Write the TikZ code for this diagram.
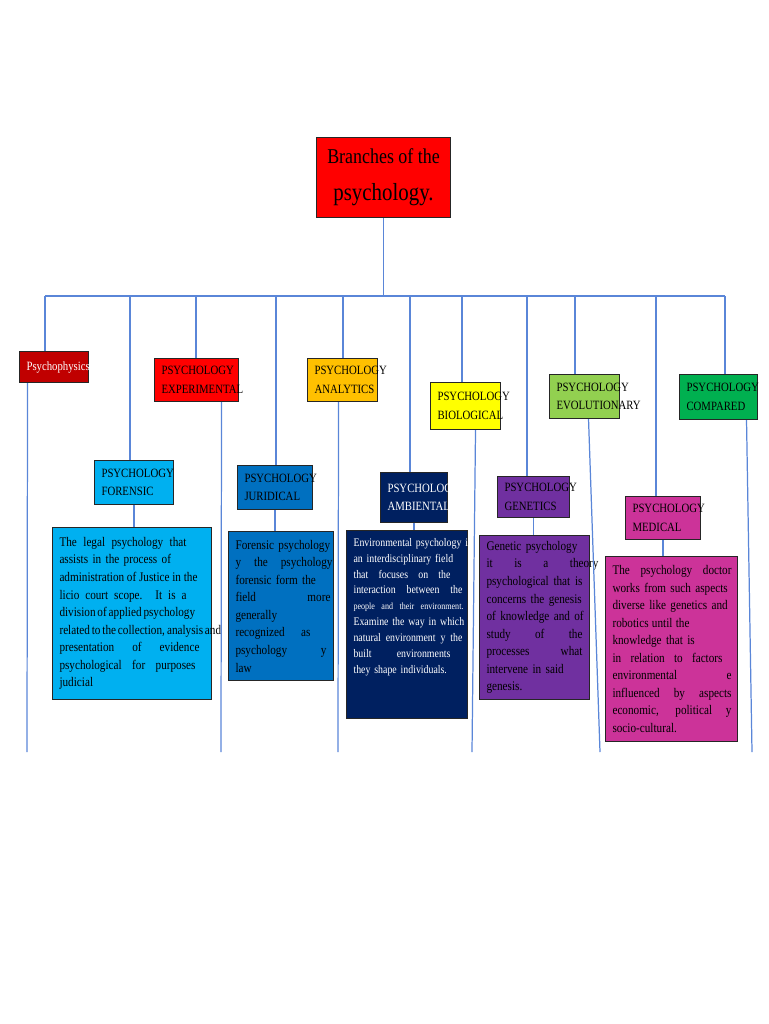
\documentclass[tikz,border=0pt]{standalone}
\usepackage{fontspec}
\setmainfont{Liberation Serif}[FakeStretch=0.85]
\usepackage{tikz}
\hyphenpenalty=10000
\uchyph=0
\definecolor{cred}{HTML}{FF0000}
\definecolor{cdark}{HTML}{C00000}
\definecolor{ccyan}{HTML}{00B0F0}
\definecolor{cblue}{HTML}{0070C0}
\definecolor{camber}{HTML}{FFC000}
\definecolor{cnavy}{HTML}{002060}
\definecolor{cyellow}{HTML}{FFFF00}
\definecolor{cpurple}{HTML}{7030A0}
\definecolor{clime}{HTML}{92D050}
\definecolor{cmagenta}{HTML}{CC3399}
\definecolor{cgreen}{HTML}{00B050}
\definecolor{clink}{HTML}{5A86D8}
\definecolor{cborder}{HTML}{262626}
\newcommand{\jline}[2][\linewidth]{\makebox[#1][s]{\spaceskip=0pt\xspaceskip=0pt #2}\\}
\newcommand{\rline}[1]{\mbox{#1}\\}
\tikzset{
  titlebox/.style={draw=cborder,line width=0.6pt,fill=cred,anchor=north west,
    align=center,minimum width=2.68cm,minimum height=1.6cm,
    font=\fontsize{12}{14}\selectfont},
  branchbox/.style={draw=cborder,line width=0.6pt,anchor=north west,align=left,
    inner xsep=0.14cm,inner ysep=0pt,font=\fontsize{7.2}{10.5}\selectfont},
  notebox/.style={draw=cborder,line width=0.6pt,anchor=north west,align=left,
    inner xsep=0.14cm,inner ysep=0pt,font=\fontsize{7.5}{10}\selectfont},
  link/.style={draw=clink,line width=0.7pt}
}
\begin{document}
\begin{tikzpicture}[x=0.02cm,y=-0.02cm]
  \useasboundingbox (0,0) rectangle (768,1024);
  \node[titlebox] (title) at (316,137)
    {Branches of the\\[7pt]{\fontsize{14}{16}\selectfont psychology.}};
  % branch labels
  \node[branchbox,fill=cdark,text=white,minimum width=1.38cm,minimum height=0.62cm,
    text width=1.10cm] (phys) at (19,351) {Psychophysics};
  \node[branchbox,fill=ccyan,minimum width=1.58cm,minimum height=0.88cm,
    text width=1.30cm] (fore) at (94,460) {PSYCHOLOGY\\FORENSIC};
  \node[branchbox,fill=cred,minimum width=1.68cm,minimum height=0.86cm,
    text width=1.40cm] (expe) at (154,358) {PSYCHOLOGY\\EXPERIMENTAL};
  \node[branchbox,fill=cblue,minimum width=1.50cm,minimum height=0.88cm,
    text width=1.22cm] (juri) at (237,465) {PSYCHOLOGY\\JURIDICAL};
  \node[branchbox,fill=camber,minimum width=1.40cm,minimum height=0.86cm,
    text width=1.12cm] (anal) at (307,358) {PSYCHOLOGY\\ANALYTICS};
  \node[branchbox,fill=cnavy,text=white,minimum width=1.34cm,minimum height=1.00cm,
    text width=1.06cm] (ambi) at (380,472) {PSYCHOLOGY\\AMBIENTAL};
  \node[branchbox,fill=cyellow,minimum width=1.40cm,minimum height=0.94cm,
    text width=1.12cm] (biol) at (430,382) {PSYCHOLOGY\\BIOLOGICAL};
  \node[branchbox,fill=cpurple,minimum width=1.44cm,minimum height=0.82cm,
    text width=1.16cm] (gene) at (497,476) {PSYCHOLOGY\\GENETICS};
  \node[branchbox,fill=clime,minimum width=1.40cm,minimum height=0.88cm,
    text width=1.12cm] (evol) at (549,374) {PSYCHOLOGY\\EVOLUTIONARY};
  \node[branchbox,fill=cmagenta,minimum width=1.50cm,minimum height=0.86cm,
    text width=1.22cm] (medi) at (625,496) {PSYCHOLOGY\\MEDICAL};
  \node[branchbox,fill=cgreen,minimum width=1.56cm,minimum height=0.90cm,
    text width=1.28cm] (comp) at (679,374) {PSYCHOLOGY\\COMPARED};
  % descriptions
  \node[notebox,fill=ccyan,minimum width=3.18cm,minimum height=3.44cm,
    text width=2.90cm] (fore-desc) at (52,527)
    {\jline[2.54cm]{The legal psychology that}
     \rline{assists in the process of}
     \jline[2.76cm]{administration of Justice in the}
     \jline[2.54cm]{licio court scope. It is a}
     \jline[2.68cm]{division of applied psychology}
     \jline[3.04cm]{related to the collection, analysis and}
     \jline[2.80cm]{presentation of evidence}
     \jline[2.72cm]{psychological for purposes}
     judicial};
  \node[notebox,fill=cblue,minimum width=2.10cm,minimum height=2.98cm,
    text width=1.82cm] (juri-desc) at (228,531)
    {\rline{Forensic psychology}
     \jline[1.94cm]{y the psychology}
     \rline{forensic form the}
     \jline[1.90cm]{field more}
     \rline{generally}
     \jline[1.50cm]{recognized as}
     \jline[1.82cm]{psychology y}
     law};
  \node[notebox,fill=cnavy,text=white,minimum width=2.42cm,minimum height=3.76cm,
    text width=2.14cm,font=\fontsize{6.6}{9}\selectfont] (ambi-desc) at (346,530)
    {\rline{Environmental psychology is}
     \rline{an interdisciplinary field}
     \jline[1.94cm]{that focuses on the}
     \jline[2.18cm]{interaction between the}
     \jline[2.20cm]{\fontsize{5.4}{9}\selectfont people and their environment.}
     \rline{Examine the way in which the}
     \jline[2.18cm]{natural environment y the}
     \jline[1.94cm]{built environments}
     they shape individuals.\par\vspace*{0.7cm}};
  \node[notebox,fill=cpurple,minimum width=2.20cm,minimum height=3.28cm,
    text width=1.92cm] (gene-desc) at (479,535)
    {\rline{Genetic psychology}
     \jline[2.24cm]{it is a theory}
     \jline[1.92cm]{psychological that is}
     \rline{concerns the genesis}
     \rline{of knowledge and of}
     \jline[1.92cm]{study of the}
     \jline[1.92cm]{processes what}
     \rline{intervene in said}
     genesis.};
  \node[notebox,fill=cmagenta,minimum width=2.64cm,minimum height=3.70cm,
    text width=2.36cm] (medi-desc) at (605,556)
    {\jline[2.38cm]{The psychology doctor}
     \rline{works from such aspects}
     \rline{diverse like genetics and}
     \jline[1.54cm]{robotics until the}
     \rline{knowledge that is}
     \jline[2.20cm]{in relation to factors}
     \jline[2.38cm]{environmental e}
     \jline[2.38cm]{influenced by aspects}
     \jline[2.38cm]{economic, political y}
     socio-cultural.};
  % connectors
  \coordinate (d1) at (45,296);
  \coordinate (d2) at (130,296);
  \coordinate (d3) at (196,296);
  \coordinate (d4) at (276,296);
  \coordinate (d5) at (343,296);
  \coordinate (d6) at (410,296);
  \coordinate (d7) at (462,296);
  \coordinate (d8) at (527,296);
  \coordinate (d9) at (575,296);
  \coordinate (d10) at (656,296);
  \coordinate (d11) at (725,296);
  \coordinate (phys-end) at (27,752);
  \coordinate (expe-end) at (221,752);
  \coordinate (anal-end) at (338,752);
  \coordinate (biol-end) at (472,752);
  \coordinate (evol-end) at (600,752);
  \coordinate (comp-end) at (752,752);
  \draw[link] (title.south) -- (title.south |- d1);
  \draw[link] (d1) -- (d11);
  \foreach \d/\n in {d1/phys,d2/fore,d3/expe,d4/juri,d5/anal,d6/ambi,
      d7/biol,d8/gene,d9/evol,d10/medi,d11/comp}
    \draw[link] (\d) -- (\d |- \n.north);
  \foreach \n in {fore,juri,ambi,gene,medi}
    \draw[link] (\n.south) -- (\n.south |- \n-desc.north);
  \foreach \n/\s in {phys/-0.53,expe/0.5,anal/-0.08,biol/0.2,evol/0.08,comp/0.56}
    \draw[link] ([xshift=\s cm]\n.south) -- (\n-end);
\end{tikzpicture}
\end{document}
